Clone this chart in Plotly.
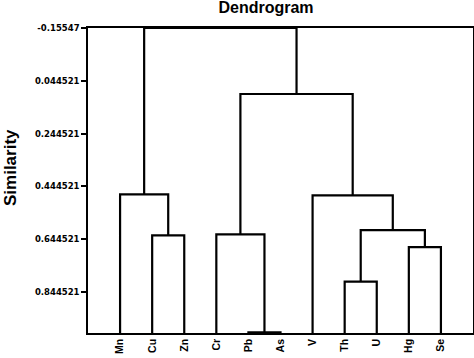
import plotly.graph_objects as go

# Data
leaves = ["Mn", "Cu", "Zn", "Cr", "Pb", "As", "V", "Th", "U", "Hg", "Se"]
# merges: (left node, right node, similarity height); nodes refer to leaf names or merge ids "m0", "m1", ...
merge_left = ["Cu", "Mn", "Pb", "Cr", "Th", "Hg", "m4", "V", "m3", "m1"]
merge_right = ["Zn", "m0", "As", "m2", "U", "Se", "m5", "m6", "m7", "m8"]
merge_height = [0.6304, 0.4747, 0.998, 0.6266, 0.8055, 0.6747, 0.6106, 0.4785, 0.0945, -0.15547]

y_tickvals = [-0.15547, 0.044521, 0.244521, 0.444521, 0.644521, 0.844521]
y_ticktext = ["-0.15547", "0.044521", "0.244521", "0.444521", "0.644521", "0.844521"]
leaf_height = 1.0

# Build segments
pos = {name: (i, leaf_height) for i, name in enumerate(leaves)}
xs, ys = [], []
for k, (a, b, h) in enumerate(zip(merge_left, merge_right, merge_height)):
    xa, ya = pos[a]
    xb, yb = pos[b]
    xs += [xa, xa, xb, xb, None]
    ys += [ya, h, h, yb, None]
    pos["m%d" % k] = ((xa + xb) / 2, h)

fig = go.Figure()
fig.add_trace(go.Scatter(x=xs, y=ys, mode="lines",
                         line=dict(color="black", width=2.2),
                         hoverinfo="skip", showlegend=False))

W, H = 474, 358
fig.update_layout(
    width=W, height=H,
    margin=dict(l=88, r=1, t=28, b=25),
    paper_bgcolor="white", plot_bgcolor="white",
    title=dict(text="<b>Dendrogram</b>", x=266 / W, xanchor="center",
               y=1 - 7 / H, yanchor="middle",
               font=dict(family="Liberation Sans", size=16, color="black")),
    xaxis=dict(range=[-1, 11], tickvals=list(range(len(leaves))), ticktext=["<b>%s</b>" % l for l in leaves],
               tickangle=-90, showgrid=False, zeroline=False, ticks="", automargin=False,
               showline=True, linecolor="black", linewidth=1.5, mirror=True,
               tickfont=dict(family="Liberation Sans", size=10.5, color="black")),
    yaxis=dict(range=[leaf_height, -0.15547], tickvals=y_tickvals,
               ticktext=["<b>%s</b>" % t for t in y_ticktext], automargin=False,
               showgrid=False, zeroline=False, ticks="outside", ticklen=5, tickwidth=1.5,
               tickcolor="black",
               showline=True, linecolor="black", linewidth=1.5, mirror=True,
               tickfont=dict(family="DejaVu Sans", size=8.5, color="black")),
    annotations=[dict(text="<b>Similarity</b>", xref="paper", yref="paper",
                      x=-78 / (W - 89), y=1 - (168 - 28) / (H - 53),
                      xanchor="center", yanchor="middle", textangle=-90, showarrow=False,
                      font=dict(family="Liberation Sans", size=17, color="black"))],
)

fig.write_html("out.html", config={"displayModeBar": False},
               post_script="document.body.style.margin='0';document.body.style.overflow='hidden';")
